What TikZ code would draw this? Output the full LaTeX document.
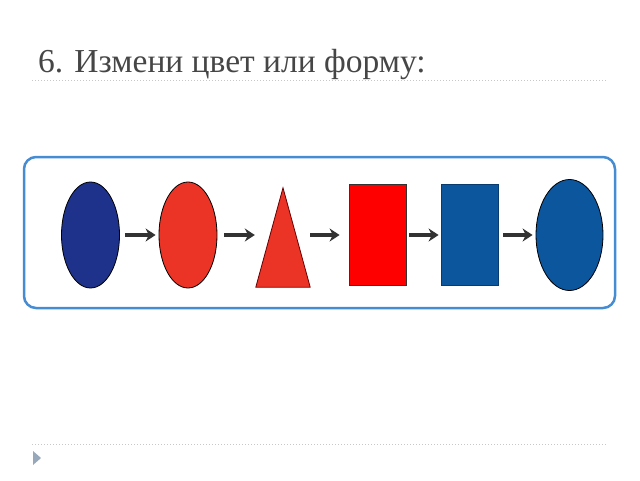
\documentclass[tikz,border=0pt]{standalone}
\usepackage{fontspec}
\setmainfont{Liberation Serif}
\usetikzlibrary{shapes.geometric,arrows.meta,positioning}
\definecolor{titlegray}{RGB}{70,70,70}
\definecolor{linegray}{RGB}{200,200,200}
\definecolor{markgray}{RGB}{150,168,185}
\definecolor{frameblue}{RGB}{70,140,210}
\definecolor{navy}{RGB}{30,50,140}
\definecolor{redfig}{RGB}{235,52,38}
\definecolor{bluefig}{RGB}{12,86,158}
\definecolor{arrowgray}{RGB}{50,50,50}
\tikzset{
  oval/.style={ellipse,draw=black,line width=0.8pt,inner sep=0pt,
    minimum width=58pt,minimum height=106pt},
  block/.style={draw=black!80,line width=0.8pt,inner sep=0pt,
    minimum width=57pt,minimum height=101pt},
  tribox/.style={inner sep=0pt,minimum width=54pt,minimum height=99pt},
  arr/.style={draw=arrowgray,line width=3.5pt,-{Stealth[length=10pt,width=13pt]}},
}
\begin{document}
\begin{tikzpicture}[x=1pt,y=-1pt]
	\useasboundingbox (0,0) rectangle (640,480);
	\node[anchor=base west,inner sep=0pt,text=titlegray,
	  font=\fontsize{33.5}{40}\selectfont] (title) at (38,72) {6. Измени цвет или форму:};
	\draw[linegray,dotted,line width=1pt] (32,80) -- (607,80);
	\draw[linegray,dotted,line width=1pt] (32,444) -- (607,444);
	\fill[markgray] (33,451) -- (41,458) -- (33,465) -- cycle;

	% frame
	\draw[frameblue,line width=2.5pt,rounded corners=12pt] (24,157) rectangle (615,308);

	% figures
	\node[oval,fill=navy] (ov1) at (90.5,235) {};
	\node[oval,fill=redfig] (ov2) at (188,235) {};
	\node[tribox] (tri) at (283,237.5) {};
	\filldraw[fill=redfig,draw=black!60!red,line width=0.8pt]
	  (tri.north) -- (tri.south east) -- (tri.south west) -- cycle;
	\node[block,fill=red] (r1) at (377.5,235) {};
	\node[block,fill=bluefig,draw=bluefig!70!black] (r2) at (469.5,235) {};
	\node[oval,fill=bluefig,minimum width=67pt,minimum height=111pt] (ov3) at (569.5,235) {};

	% arrows
	\draw[arr,shorten <=5pt,shorten >=3pt] (ov1.east) -- (ov2.west);
	\draw[arr,shorten <=7pt,shorten >=1pt] (ov2.east) -- (ov2.east -| tri.west);
	\draw[arr,shorten <=0pt,shorten >=9pt] (r1.west -| tri.east) -- (r1.west);
	\draw[arr,shorten <=3pt,shorten >=2pt] (r1.east) -- (r2.west);
	\draw[arr,shorten <=5pt,shorten >=3pt] (r2.east) -- (ov3.west);
\end{tikzpicture}
\end{document}
